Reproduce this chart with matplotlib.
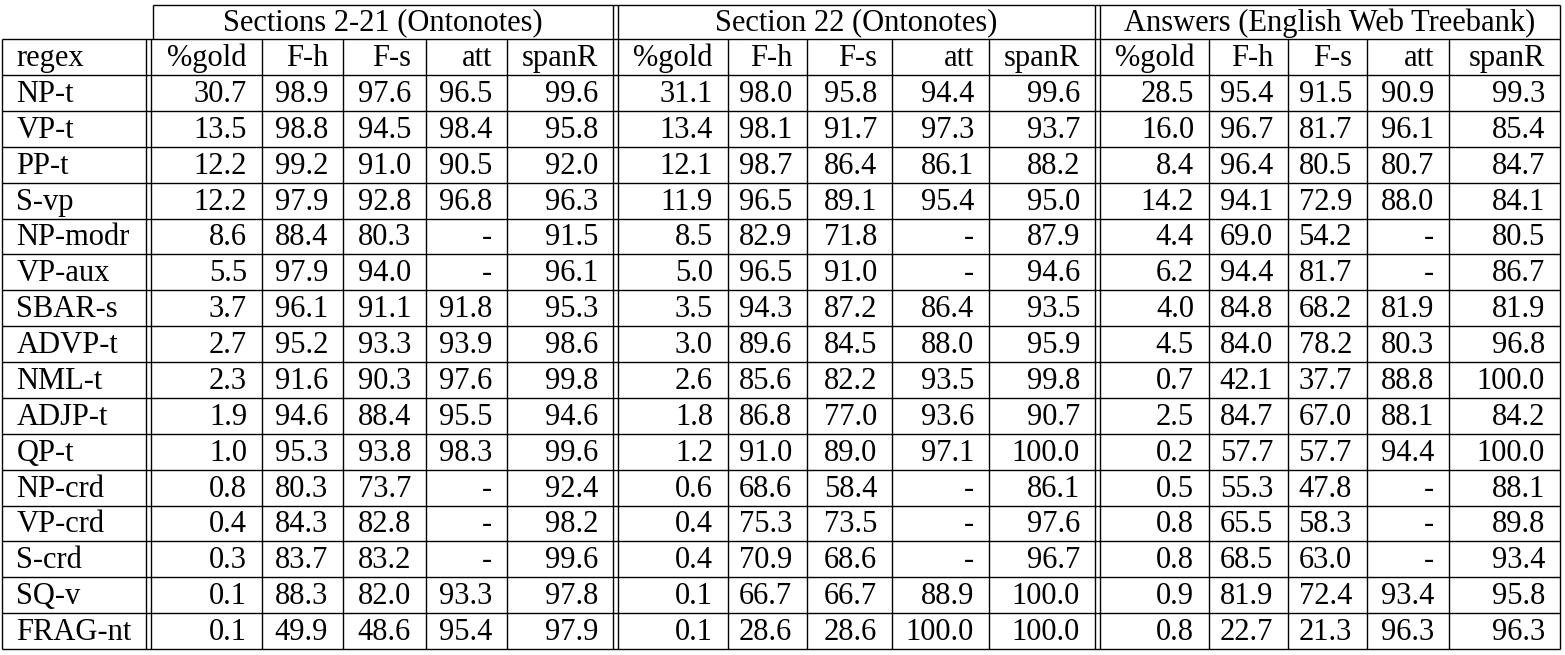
import matplotlib
matplotlib.use("Agg")
import matplotlib.pyplot as plt

# ---------------- data ----------------
regex = ["NP-t", "VP-t", "PP-t", "S-vp", "NP-modr", "VP-aux", "SBAR-s", "ADVP-t",
         "NML-t", "ADJP-t", "QP-t", "NP-crd", "VP-crd", "S-crd", "SQ-v", "FRAG-nt"]
metrics = ["%gold", "F-h", "F-s", "att", "spanR"]
groups = ["Sections 2-21 (Ontonotes)", "Section 22 (Ontonotes)", "Answers (English Web Treebank)"]

sec_2_21 = [
    [30.7, 98.9, 97.6, 96.5, 99.6],
    [13.5, 98.8, 94.5, 98.4, 95.8],
    [12.2, 99.2, 91.0, 90.5, 92.0],
    [12.2, 97.9, 92.8, 96.8, 96.3],
    [8.6, 88.4, 80.3, None, 91.5],
    [5.5, 97.9, 94.0, None, 96.1],
    [3.7, 96.1, 91.1, 91.8, 95.3],
    [2.7, 95.2, 93.3, 93.9, 98.6],
    [2.3, 91.6, 90.3, 97.6, 99.8],
    [1.9, 94.6, 88.4, 95.5, 94.6],
    [1.0, 95.3, 93.8, 98.3, 99.6],
    [0.8, 80.3, 73.7, None, 92.4],
    [0.4, 84.3, 82.8, None, 98.2],
    [0.3, 83.7, 83.2, None, 99.6],
    [0.1, 88.3, 82.0, 93.3, 97.8],
    [0.1, 49.9, 48.6, 95.4, 97.9],
]
sec_22 = [
    [31.1, 98.0, 95.8, 94.4, 99.6],
    [13.4, 98.1, 91.7, 97.3, 93.7],
    [12.1, 98.7, 86.4, 86.1, 88.2],
    [11.9, 96.5, 89.1, 95.4, 95.0],
    [8.5, 82.9, 71.8, None, 87.9],
    [5.0, 96.5, 91.0, None, 94.6],
    [3.5, 94.3, 87.2, 86.4, 93.5],
    [3.0, 89.6, 84.5, 88.0, 95.9],
    [2.6, 85.6, 82.2, 93.5, 99.8],
    [1.8, 86.8, 77.0, 93.6, 90.7],
    [1.2, 91.0, 89.0, 97.1, 100.0],
    [0.6, 68.6, 58.4, None, 86.1],
    [0.4, 75.3, 73.5, None, 97.6],
    [0.4, 70.9, 68.6, None, 96.7],
    [0.1, 66.7, 66.7, 88.9, 100.0],
    [0.1, 28.6, 28.6, 100.0, 100.0],
]
answers = [
    [28.5, 95.4, 91.5, 90.9, 99.3],
    [16.0, 96.7, 81.7, 96.1, 85.4],
    [8.4, 96.4, 80.5, 80.7, 84.7],
    [14.2, 94.1, 72.9, 88.0, 84.1],
    [4.4, 69.0, 54.2, None, 80.5],
    [6.2, 94.4, 81.7, None, 86.7],
    [4.0, 84.8, 68.2, 81.9, 81.9],
    [4.5, 84.0, 78.2, 80.3, 96.8],
    [0.7, 42.1, 37.7, 88.8, 100.0],
    [2.5, 84.7, 67.0, 88.1, 84.2],
    [0.2, 57.7, 57.7, 94.4, 100.0],
    [0.5, 55.3, 47.8, None, 88.1],
    [0.8, 65.5, 58.3, None, 89.8],
    [0.8, 68.5, 63.0, None, 93.4],
    [0.9, 81.9, 72.4, 93.4, 95.8],
    [0.8, 22.7, 21.3, 96.3, 96.3],
]
tables = [sec_2_21, sec_22, answers]

# ---------------- layout (pixels) ----------------
W, H = 1565, 655
fig = plt.figure(figsize=(W / 100, H / 100), dpi=100)
ax = fig.add_axes([0, 0, 1, 1])
ax.set_xlim(0, W)
ax.set_ylim(H, 0)
ax.axis("off")

FONT = ["Liberation Serif", "DejaVu Serif"]
FS = 22
LW = 1.0
PAD = 15

x_left = 1.5
x_reg_dbl = (146, 151)
group_cols = [
    [153, 262, 343, 426, 507, 613],
    [618, 728, 807, 892, 989, 1095],
    [1100, 1209, 1288, 1367, 1449, 1560],
]
x_right = 1560
y_top = 4.5
y_head = 38.5
y_sub = 75
n_rows = len(regex)
row_h = (649 - y_sub) / n_rows
y_rows = [y_sub + i * row_h for i in range(n_rows + 1)]
y_bottom = y_rows[-1]


def hline(y, x0, x1):
    ax.plot([x0, x1], [y, y], color="black", lw=LW, solid_capstyle="butt")


def vline(x, y0, y1):
    ax.plot([x, x], [y0, y1], color="black", lw=LW, solid_capstyle="butt")


# horizontal lines
hline(y_top, group_cols[0][0], x_right)
hline(y_head, x_left, x_right)
for y in [y_sub] + y_rows[1:]:
    hline(y, x_left, x_right)

# vertical lines
vline(x_left, y_head, y_bottom)
for x in x_reg_dbl:
    vline(x, y_head, y_bottom)
vline(group_cols[0][0], y_top, y_head)
for gi, cols in enumerate(group_cols):
    vline(cols[-1], y_top, y_bottom)
    if gi < len(group_cols) - 1:
        vline(group_cols[gi + 1][0], y_top, y_bottom)
    for x in cols[1:-1]:
        vline(x, y_head, y_bottom)

txt = dict(fontsize=FS, family=FONT, color="black")

# group headers
for gi, cols in enumerate(group_cols):
    xc = (cols[0] + cols[-1]) / 2
    ax.text(xc, (y_top + y_head) / 2 + 9, groups[gi], ha="center", va="baseline", **txt)

# sub header row
yb = (y_head + y_sub) / 2 + 9
ax.text(x_left + PAD, yb, "regex", ha="left", va="baseline", **txt)
for cols in group_cols:
    for ci, m in enumerate(metrics):
        ax.text(cols[ci + 1] - PAD, yb, m, ha="right", va="baseline", **txt)

# body
for ri, name in enumerate(regex):
    yb = (y_rows[ri] + y_rows[ri + 1]) / 2 + 9
    ax.text(x_left + PAD, yb, name, ha="left", va="baseline", **txt)
    for gi, cols in enumerate(group_cols):
        vals = tables[gi][ri]
        for ci, v in enumerate(vals):
            s = "-" if v is None else f"{v:.1f}"
            ax.text(cols[ci + 1] - PAD, yb, s, ha="right", va="baseline", **txt)

fig.savefig("out.png", dpi=100, facecolor="white")
